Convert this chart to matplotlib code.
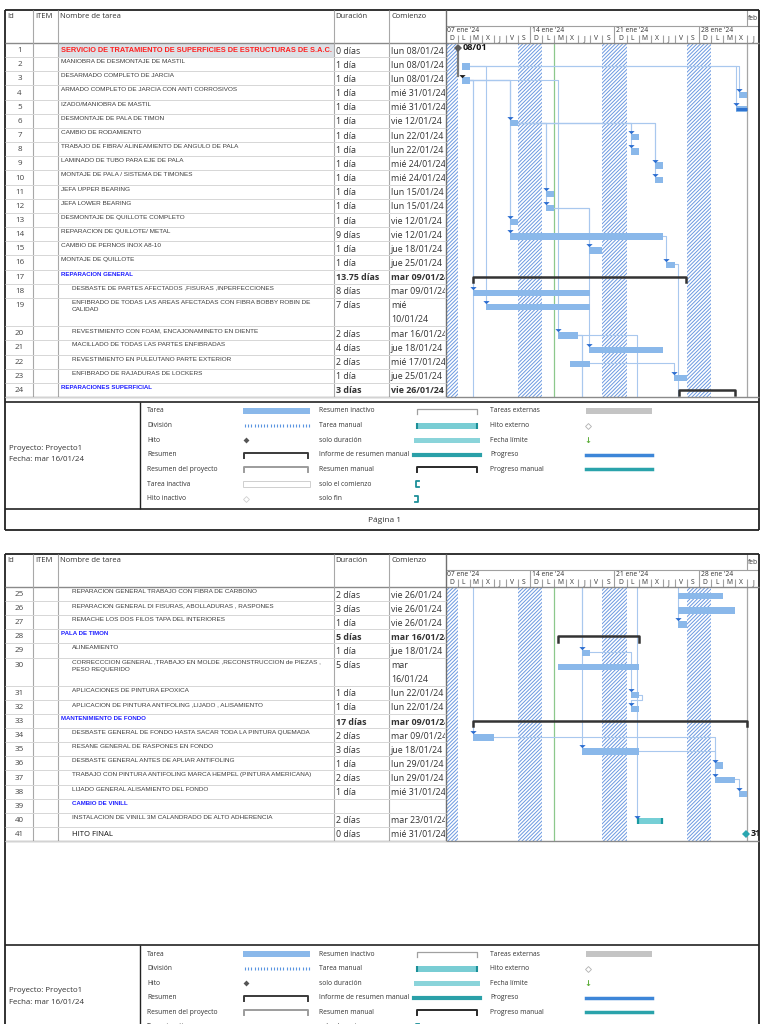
import matplotlib
matplotlib.use("Agg")
import matplotlib.pyplot as plt
from matplotlib.patches import Rectangle
from matplotlib.transforms import Bbox
import numpy as np

plt.rcParams['font.family'] = ['Open Sans', 'DejaVu Sans']
plt.rcParams['hatch.linewidth'] = 0.7

# escala de tiempo: dias contados desde el domingo 07 ene '24
semanas = ["07 ene '24", "14 ene '24", "21 ene '24", "28 ene '24"]
letras_dia = ["D", "L", "M", "X", "J", "V", "S"]
fines_semana = [0, 6, 7, 13, 14, 20, 21]
dia_hoy = 9.0      # mar 16/01
dia_feb = 25.0     # 01 feb

ids = list(range(1, 42))
nombres = [
    "SERVICIO DE TRATAMIENTO DE SUPERFICIES DE ESTRUCTURAS DE S.A.C.",
    "MANIOBRA DE DESMONTAJE DE MASTIL",
    "DESARMADO COMPLETO DE JARCIA",
    "ARMADO COMPLETO DE JARCIA CON ANTI CORROSIVOS",
    "IZADO/MANIOBRA DE MASTIL",
    "DESMONTAJE DE PALA DE TIMON",
    "CAMBIO DE RODAMIENTO",
    "TRABAJO DE FIBRA/ ALINEAMIENTO DE ANGULO DE PALA",
    "LAMINADO DE TUBO PARA EJE DE PALA",
    "MONTAJE DE PALA / SISTEMA DE TIMONES",
    "JEFA UPPER BEARING",
    "JEFA LOWER BEARING",
    "DESMONTAJE DE QUILLOTE COMPLETO",
    "REPARACION DE QUILLOTE/ METAL",
    "CAMBIO DE PERNOS INOX A8-10",
    "MONTAJE DE QUILLOTE",
    "REPARACION GENERAL",
    "DESBASTE DE PARTES AFECTADOS ,FISURAS ,INPERFECCIONES",
    "ENFIBRADO DE TODAS LAS AREAS AFECTADAS CON FIBRA BOBBY ROBIN DE\nCALIDAD",
    "REVESTIMIENTO CON FOAM, ENCAJONAMINETO EN DIENTE",
    "MACILLADO DE TODAS LAS PARTES ENFIBRADAS",
    "REVESTIMIENTO EN PULEUTANO PARTE EXTERIOR",
    "ENFIBRADO DE RAJADURAS DE LOCKERS",
    "REPARACIONES SUPERFICIAL",
    "REPARACION GENERAL TRABAJO CON FIBRA DE CARBONO",
    "REPARACION GENERAL DI FISURAS, ABOLLADURAS , RASPONES",
    "REMACHE LOS DOS FILOS TAPA DEL INTERIORES",
    "PALA DE TIMON",
    "ALINEAMIENTO",
    "CORRECCCION GENERAL ,TRABAJO EN MOLDE ,RECONSTRUCCION de PIEZAS ,\nPESO REQUERIDO",
    "APLICACIONES DE PINTURA EPOXICA",
    "APLICACION DE PINTURA ANTIFOLING ,LIJADO , ALISAMIENTO",
    "MANTENIMIENTO DE FONDO",
    "DESBASTE GENERAL DE FONDO HASTA SACAR TODA LA PINTURA QUEMADA",
    "RESANE GENERAL DE RASPONES EN FONDO",
    "DESBASTE GENERAL ANTES DE APLIAR ANTIFOLING",
    "TRABAJO CON PINTURA ANTIFOLING MARCA HEMPEL (PINTURA AMERICANA)",
    "LIJADO GENERAL ALISAMIENTO DEL FONDO",
    "CAMBIO DE VINILL",
    "INSTALACION DE VINILL 3M CALANDRADO DE ALTO ADHERENCIA",
    "HITO FINAL",
]
duraciones = [
    "0 días", "1 día", "1 día", "1 día", "1 día", "1 día", "1 día", "1 día",
    "1 día", "1 día", "1 día", "1 día", "1 día", "9 días", "1 día", "1 día",
    "13.75 días", "8 días", "7 días", "2 días", "4 días", "2 días", "1 día",
    "3 días", "2 días", "3 días", "1 día", "5 días", "1 día", "5 días",
    "1 día", "1 día", "17 días", "2 días", "3 días", "1 día", "2 días",
    "1 día", "", "2 días", "0 días",
]
comienzos = [
    "lun 08/01/24", "lun 08/01/24", "lun 08/01/24", "mié 31/01/24",
    "mié 31/01/24", "vie 12/01/24", "lun 22/01/24", "lun 22/01/24",
    "mié 24/01/24", "mié 24/01/24", "lun 15/01/24", "lun 15/01/24",
    "vie 12/01/24", "vie 12/01/24", "jue 18/01/24", "jue 25/01/24",
    "mar 09/01/24", "mar 09/01/24", "mié\n10/01/24", "mar 16/01/24",
    "jue 18/01/24", "mié 17/01/24", "jue 25/01/24", "vie 26/01/24",
    "vie 26/01/24", "vie 26/01/24", "vie 26/01/24", "mar 16/01/24",
    "jue 18/01/24", "mar\n16/01/24", "lun 22/01/24", "lun 22/01/24",
    "mar 09/01/24", "mar 09/01/24", "jue 18/01/24", "lun 29/01/24",
    "lun 29/01/24", "mié 31/01/24", "", "mar 23/01/24", "mié 31/01/24",
]
tipos = (["hito"] + ["tarea"] * 15 + ["resumen"] + ["tarea"] * 6 + ["resumen"]
         + ["tarea"] * 3 + ["resumen"] + ["tarea"] * 4 + ["resumen"]
         + ["tarea"] * 5 + ["resumen", "manual", "hito_m"])
nivel = ([0] * 17 + [1] * 6 + [0] + [1] * 3 + [0] + [1] * 4 + [0]
         + [1] * 5 + [1, 1, 1])

# barras (dias desde 07/01)
bar_ini = [1.0, 1.33, 1.33, 24.33, 24.1, 5.33, 15.33, 15.33, 17.33, 17.33,
           8.33, 8.33, 5.33, 5.33, 11.9, 18.3, 2.28, 2.28, 3.35, 9.3,
           11.9, 10.3, 18.9, 19.35, 19.3, 19.3, 19.3, 9.3, 11.3, 9.3,
           15.33, 15.33, 2.28, 2.28, 11.3, 22.3, 22.3, 24.33, np.nan, 15.9, 24.9]
bar_fin = [1.0, 2.0, 2.0, 25.0, 25.0, 6.0, 16.0, 16.0, 18.0, 18.0,
           9.0, 9.0, 6.0, 18.0, 13.0, 19.0, 19.9, 12.0, 12.0, 11.0,
           18.0, 12.0, 20.0, 24.0, 23.0, 24.0, 20.0, 16.0, 12.0, 16.0,
           16.0, 16.0, 25.0, 4.0, 16.0, 23.0, 24.0, 25.0, np.nan, 18.0, 24.9]
progreso = [0] * 41
progreso[4] = 1.0

vinculos = [(1, 3), (2, 4), (2, 5), (2, 19), (3, 6), (3, 13), (3, 14), (3, 18),
            (3, 20), (3, 34), (6, 7), (6, 8), (6, 9), (6, 10), (6, 11), (6, 12),
            (12, 15), (12, 21), (14, 16), (16, 27), (20, 29), (20, 35), (20, 40),
            (22, 23), (29, 31), (31, 32), (34, 36), (35, 37), (37, 38)]

leyenda_col1 = ["Tarea", "División", "Hito", "Resumen", "Resumen del proyecto",
                "Tarea inactiva", "Hito inactivo"]
leyenda_col2 = ["Resumen inactivo", "Tarea manual", "solo duración",
                "Informe de resumen manual", "Resumen manual", "solo el comienzo",
                "solo fin"]
leyenda_col3 = ["Tareas externas", "Hito externo", "Fecha límite", "Progreso",
                "Progreso manual"]

# ---- geometria de las paginas (pixeles) ----
W, H = 768, 1024
fig = plt.figure(figsize=(W / 100, H / 100), dpi=100)

alto = np.array([2 if k in (19, 30) else 1 for k in ids])
slot = np.concatenate([[0], np.cumsum(alto)[:-1]])
centro = slot + 0.5
pag = [0 if k <= 24 else 1 for k in ids]

OFF = [0, 544]
BASE = [43, 587]
FONDO = [397, 841]
S0 = [0, 25]
NUM = [25, 18]
RH = [(FONDO[p] - BASE[p]) / NUM[p] for p in range(2)]
LEY = [402, 945]
GX0, GX1 = 446.2, 758.5
X_ENE7, PX_DIA = 445.5, 12.07
XLIM = ((GX0 - X_ENE7) / PX_DIA, (GX1 - X_ENE7) / PX_DIA)

AZUL = '#8ab8ea'
LINK = '#a9c8ee'
FLECHA = '#2a6cd0'
tri = [(-1, 0.45), (1, 0.45), (0, -0.55), (-1, 0.45)]


def px_axes(x0, y0, x1, y1):
    a = fig.add_axes([x0 / W, 1 - y1 / H, (x1 - x0) / W, (y1 - y0) / H])
    a.set_xticks([])
    a.set_yticks([])
    for s in a.spines.values():
        s.set_visible(False)
    return a


def vinculo(ga, p, s):
    i, j = p - 1, s - 1
    y_fl = centro[j] - 0.2
    if tipos[i] == 'hito':
        ga.plot([bar_ini[i], bar_ini[i]], [centro[i] - 0.1, y_fl], color='#7a7a7a', lw=1.6, zorder=3)
        ga.plot(bar_ini[j], y_fl, marker=tri, ms=4.5, color='#1a1a1a', mew=0, zorder=6)
        return
    x0, y0, x1 = bar_fin[i], centro[i] + 0.12, bar_ini[j]
    if x1 >= x0:
        xs, ys = [x0, x1, x1], [y0, y0, y_fl]
    else:
        ym = slot[i] + alto[i]
        xs, ys = [x0, x0 + 0.25, x0 + 0.25, x1, x1], [y0, y0, ym, ym, y_fl]
    ga.plot(xs, ys, color=LINK, lw=0.8, zorder=3)
    ga.plot(x1, y_fl, marker=tri, ms=4.5, color=FLECHA, mew=0, zorder=6)


def barra(ga, i, p):
    t, yc = tipos[i], centro[i]
    a, b = bar_ini[i], bar_fin[i]
    if np.isnan(a):
        return
    if t == 'tarea':
        ga.barh(yc + 0.16, b - a, left=a, height=0.45, color=AZUL, lw=0, zorder=4)
        if progreso[i] > 0:
            ga.hlines(yc + 0.16, a, a + progreso[i] * (b - a), color='#2f74d0', lw=2.2, zorder=5)
    elif t == 'resumen':
        ga.plot([a, a, b, b], [yc + 0.38, yc, yc, yc + 0.38], color='#333333', lw=1.8, zorder=4)
    elif t == 'manual':
        ga.barh(yc + 0.1, b - a, left=a, height=0.45, color='#76cfd6', lw=0, zorder=4)
        ga.vlines([a + 0.05, b - 0.05], yc - 0.13, yc + 0.33, color='#1a9aa1', lw=1.6, zorder=5)
    else:
        col = '#5c5c5c' if t == 'hito' else '#2aa6b0'
        yy = yc - 0.15 if t == 'hito' else yc
        ga.plot(a, yy, marker='D', ms=3.6, color=col, mew=0, zorder=6)
        if pag[i] == p:
            ga.text(a + 0.4, yy, comienzos[i].split()[1][:5], fontsize=6.5, fontweight='bold',
                    va='center', color='#111111', clip_on=True, zorder=6)


for p in range(2):
    # cuerpo del gantt
    ga = px_axes(GX0, BASE[p], GX1, FONDO[p])
    ga.set_xlim(*XLIM)
    ga.set_ylim(S0[p] + NUM[p], S0[p])
    for d in fines_semana:
        ga.axvspan(d, d + 1, facecolor='white', edgecolor='#6a98e0', hatch='/////////', lw=0, zorder=1)
    ga.axvline(dia_hoy, color='#8cc88c', lw=0.9, zorder=2)
    ga.axvline(dia_feb, color='#a6a6a6', lw=0.9, zorder=2)
    for a_, b_ in vinculos:
        vinculo(ga, a_, b_)
    for i in range(len(ids)):
        barra(ga, i, p)

    # escala de tiempo
    hx = px_axes(GX0, OFF[p] + 10, GX1, BASE[p])
    hx.set_xlim(*XLIM)
    hx.set_ylim(33, 0)
    hx.axhline(15.5, color='#a0a0a0', lw=0.8)
    for d in range(27):
        hx.vlines(d, 15.5 if d % 7 == 0 else 24.5, 33, color='#a0a0a0', lw=0.8)
        hx.text(d + 0.5, 29, letras_dia[d % 7], fontsize=4.9, ha='center', va='center',
                color='#333333', clip_on=True)
    for k, s in enumerate(semanas):
        hx.text(7 * k + 0.15, 20, s, fontsize=4.9, va='center', color='#333333', clip_on=True)
    hx.vlines(dia_feb, 0, 15.5, color='#a0a0a0', lw=0.8)
    hx.text(dia_feb + 0.05, 8.5, 'feb', fontsize=4.8, va='center', color='#333333', clip_on=True)

# ---- capa de tabla, marcos y leyenda ----
ax = fig.add_axes([0, 0, 1, 1])
ax.set_xlim(0, W)
ax.set_ylim(H, 0)
ax.axis('off')
ax.set_zorder(10)

COLS = [33, 58, 334, 389]
CLIP_NOM = Bbox.from_extents(58, 0, 334, H)
CLIP_DUR = Bbox.from_extents(334, 0, 389, H)
CLIP_COM = Bbox.from_extents(389, 0, 445, H)


def linea(x0, y0, x1, y1, c='#222222', lw=1.0):
    ax.plot([x0, x1], [y0, y1], color=c, lw=lw, solid_capstyle='butt')


def texto(x, y, s, clip=None, **kw):
    kw.setdefault('va', 'center')
    kw.setdefault('color', '#333333')
    t = ax.text(x, y, s, **kw)
    if clip is not None:
        t.set_clip_on(True)
        t.set_clip_box(clip)
    return t


def corchete(x0, x1, y, c, lw=1.4):
    ax.plot([x0, x0, x1, x1], [y + 3, y - 2, y - 2, y + 3], color=c, lw=lw)


def leyenda(y0):
    ys = [y0 + 9 + 14.6 * k for k in range(7)]
    for col, xt in ((leyenda_col1, 147), (leyenda_col2, 319), (leyenda_col3, 490)):
        for k, s in enumerate(col):
            texto(xt, ys[k], s, fontsize=4.9)
    y = ys
    ax.add_patch(Rectangle((243, y[0] - 3), 67, 6, fc=AZUL, lw=0))
    ax.vlines(np.arange(245, 310, 3.2), y[1] - 1.8, y[1] + 1.8, color='#5a94e0', lw=0.8)
    ax.plot(246, y[2], marker='D', ms=3, color='#555555', mew=0)
    corchete(244, 308, y[3], '#3a3a3a')
    corchete(244, 308, y[4], '#9c9c9c')
    ax.add_patch(Rectangle((243, y[5] - 3), 67, 6, fc='white', ec='#cfcfcf', lw=0.7))
    ax.plot(246, y[6], marker='D', ms=3, mfc='white', mec='#d0d0d0', mew=0.6)

    corchete(417, 477, y[0], '#a0a0a0', lw=0.9)
    ax.add_patch(Rectangle((416, y[1] - 3), 62, 6, fc='#79cdd4', lw=0))
    ax.vlines([416.7, 477.3], y[1] - 3, y[1] + 3, color='#1c8f98', lw=1.5)
    ax.add_patch(Rectangle((414, y[2] - 2.5), 66, 5.5, fc='#8ad4da', lw=0))
    ax.plot([414, 480], [y[3], y[3]], color='#2aa0a8', lw=3)
    corchete(417, 477, y[4], '#2a2a2a')
    ax.plot([418.5, 416, 416, 418.5], [y[5] - 3, y[5] - 3, y[5] + 3, y[5] + 3], color='#1c8f98', lw=1.3)
    ax.plot([415, 417.5, 417.5, 415], [y[6] - 3, y[6] - 3, y[6] + 3, y[6] + 3], color='#1c8f98', lw=1.3)

    ax.add_patch(Rectangle((586, y[0] - 3), 66, 6, fc='#c4c4c4', lw=0))
    ax.plot(588, y[1], marker='D', ms=3, mfc='white', mec='#b0b0b0', mew=0.6)
    texto(588, y[2], '↓', fontsize=6, fontweight='bold', ha='center', color='#5fae3c',
          family='DejaVu Sans')
    ax.plot([586, 652], [y[3], y[3]], color='#3d86d8', lw=2.5)
    ax.plot([586, 652], [y[4], y[4]], color='#2aa3ab', lw=2.5)


for p in range(2):
    top = OFF[p] + 10
    bottom = 530 if p == 0 else H + 10
    linea(5, top, 759, top, lw=1.3)
    linea(5, top, 5, bottom, lw=1.3)
    linea(759, top, 759, bottom, lw=1.3)
    if p == 0:
        linea(5, bottom, 759, bottom, lw=1.3)
    linea(5, BASE[p], 759, BASE[p], '#8a8a8a')
    for x in COLS:
        linea(x, top, x, FONDO[p], '#a8a8a8', 0.8)
    linea(445.5, top, 445.5, FONDO[p], '#707070', 1.0)
    for x, s in zip([7, 35, 60, 335, 391], ["Id", "ITEM", "Nombre de tarea", "Duración", "Comienzo"]):
        texto(x, top + 6, s, fontsize=5.5)
    linea(5, FONDO[p], 759, FONDO[p], '#8a8a8a')
    linea(5, LEY[p], 759, LEY[p], lw=1.2)
    linea(140, LEY[p], 140, LEY[p] + 107 if p == 0 else bottom, lw=1.0)
    texto(9, LEY[p] + 46, "Proyecto: Proyecto1", fontsize=5.7)
    texto(9, LEY[p] + 57.5, "Fecha: mar 16/01/24", fontsize=5.7)
    leyenda(LEY[p])
    if p == 0:
        linea(5, 509, 759, 509, lw=1.2)
        texto(384, 520, "Página 1", fontsize=6, ha='center')

for i, k in enumerate(ids):
    p = pag[i]
    rtop = BASE[p] + (slot[i] - S0[p]) * RH[p]
    rbot = rtop + alto[i] * RH[p]
    yc = rtop + 0.5 * RH[p]
    linea(5, rbot, 445.5, rbot, '#d6d6d6', 0.7)
    texto(19.5, yc + 0.5, str(k), fontsize=5.8, ha='center', color='#444444')
    xn = 72 if nivel[i] else 61
    t = tipos[i]
    if t == 'hito':
        ax.add_patch(Rectangle((58.5, rtop + 0.5), 275, RH[p] - 1, fc='#dde1e6', lw=0, zorder=0))
        texto(61, yc, nombres[i], clip=CLIP_NOM, fontsize=5.35, fontweight='bold',
              color='#ff1f1f', family=['Liberation Sans', 'DejaVu Sans'])
    elif t == 'hito_m':
        texto(xn, yc + 1, nombres[i], clip=CLIP_NOM, fontsize=5.6, color='#111111')
    else:
        grupo = t == 'resumen'
        for n, linea_txt in enumerate(nombres[i].split('\n')):
            texto(xn, rtop + 4.5 + 7.4 * n, linea_txt, clip=CLIP_NOM,
                  fontsize=4.4 if grupo else 4.55,
                  fontweight='bold' if grupo else 'normal',
                  color='#1f1fff' if grupo else '#3d3d3d',
                  family=['Liberation Sans', 'DejaVu Sans'])
    peso = 'bold' if t == 'resumen' else 'normal'
    texto(336, yc + 1, duraciones[i], clip=CLIP_DUR, fontsize=6.4, fontweight=peso)
    for n, c in enumerate(comienzos[i].split('\n')):
        texto(391, yc + 1 + 14 * n, c, clip=CLIP_COM, fontsize=6.4, fontweight=peso)

fig.savefig("out.png", dpi=100, facecolor='white')
